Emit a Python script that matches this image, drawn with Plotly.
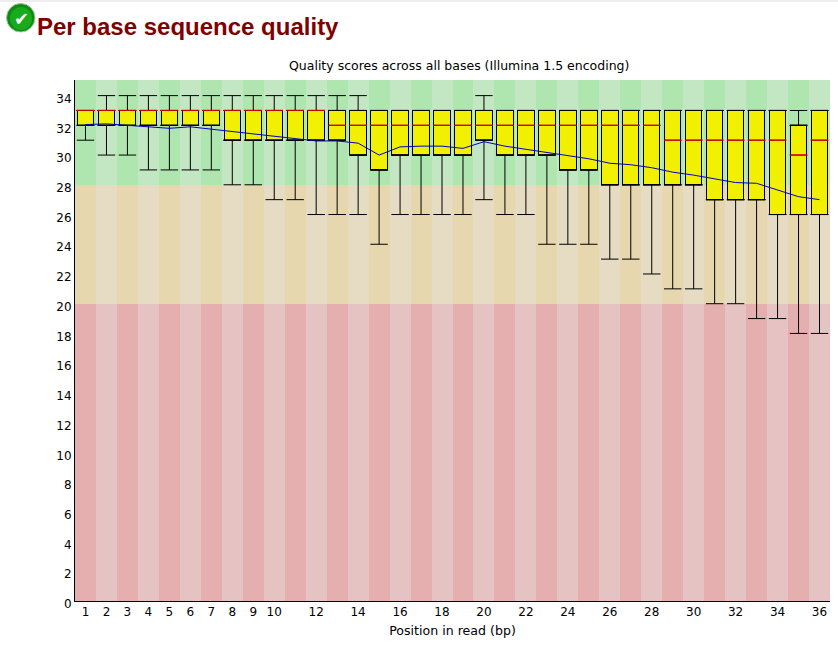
"""
Per base sequence quality (FastQC style) redone with Plotly
"""

import plotly.graph_objects as go

# Data
posicoes = list(range(1, 37))
q1 = [32, 32, 32, 32, 32, 32, 32, 31, 31, 31, 31, 31, 31, 30, 29, 30, 30, 30,
      30, 31, 30, 30, 30, 29, 29, 28, 28, 28, 28, 28, 27, 27, 27, 26, 26, 26]
mediana = [33, 33, 33, 33, 33, 33, 33, 33, 33, 33, 33, 33, 32, 32, 32, 32, 32, 32,
           32, 32, 32, 32, 32, 32, 32, 32, 32, 32, 31, 31, 31, 31, 31, 31, 30, 31]
q3 = [33, 33, 33, 33, 33, 33, 33, 33, 33, 33, 33, 33, 33, 33, 33, 33, 33, 33,
      33, 33, 33, 33, 33, 33, 33, 33, 33, 33, 33, 33, 33, 33, 33, 33, 32, 33]
minimo = [31, 30, 30, 29, 29, 29, 29, 28, 28, 27, 27, 26, 26, 26, 24, 26, 26, 26,
          26, 27, 26, 26, 24, 24, 24, 23, 23, 22, 21, 21, 20, 20, 19, 19, 18, 18]
maximo = [33, 34, 34, 34, 34, 34, 34, 34, 34, 34, 34, 34, 34, 34, 33, 33, 33, 33,
          33, 34, 33, 33, 33, 33, 33, 33, 33, 33, 33, 33, 33, 33, 33, 33, 33, 33]
media = [32.05, 32.1, 32.0, 31.9, 31.8, 31.9, 31.75, 31.55, 31.45, 31.25, 31.1, 30.95,
         30.95, 30.8, 30.0, 30.55, 30.6, 30.6, 30.45, 30.9, 30.6, 30.4, 30.2, 30.0,
         29.75, 29.45, 29.35, 29.15, 28.85, 28.65, 28.4, 28.15, 28.1, 27.65, 27.2, 27.0]

# Background zones: base, height and the two stripe colours
zonas = [
    (0, 20, "rgb(230,175,175)", "rgb(230,195,195)"),
    (20, 8, "rgb(230,215,175)", "rgb(230,220,195)"),
    (28, 7.05, "rgb(175,230,175)", "rgb(195,230,195)"),
]

x_ticks = [1, 2, 3, 4, 5, 6, 7, 8, 9, 10, 12, 14, 16, 18, 20, 22, 24, 26, 28, 30, 32, 34, 36]
y_ticks = list(range(0, 36, 2))

LARGURA, ALTURA = 838, 651
ML, MR, MT, MB = 75, 8, 80, 50
FONTE = "DejaVu Sans"
LARGURA_CAIXA = 0.83


def px_x(px):
    """Pixel da janela para coordenada paper em x"""
    return (px - ML) / (LARGURA - ML - MR)


def px_y(px):
    """Pixel da janela para coordenada paper em y"""
    return 1 - (px - MT) / (ALTURA - MT - MB)


def caixa_plana(nivel, baixo, alto, cor, espessura=1):
    """Caixa de altura zero: só uma linha no nível, com bigodes opcionais"""
    return go.Box(
        x=posicoes,
        q1=nivel,
        median=nivel,
        q3=nivel,
        lowerfence=baixo,
        upperfence=alto,
        width=LARGURA_CAIXA,
        whiskerwidth=1,
        line=dict(color=cor, width=espessura),
        boxpoints=False,
    )


fig = go.Figure()

# Listras de fundo
for base, altura, escura, clara in zonas:
    fig.add_trace(go.Bar(
        x=posicoes,
        y=[altura] * len(posicoes),
        base=[base] * len(posicoes),
        width=1,
        marker=dict(
            color=[escura if p % 2 else clara for p in posicoes],
            line=dict(width=0),
        ),
        hoverinfo="skip",
    ))

# Corpo das caixas: barra preta e amarela por cima, 2 px mais estreita
# (go.Box sempre desenha a mediana 1 px abaixo de q3, por isso as barras)
alturas_caixa = [a - b for a, b in zip(q3, q1)]
fig.add_trace(go.Bar(x=posicoes, y=alturas_caixa, base=q1, width=LARGURA_CAIXA,
                     marker=dict(color="black", line=dict(width=0))))
fig.add_trace(go.Bar(x=posicoes, y=alturas_caixa, base=q1, width=LARGURA_CAIXA - 2 / 21,
                     marker=dict(color="rgb(240,240,0)", line=dict(width=0))))

# Bigodes, bordas de cima e de baixo, e a mediana em vermelho
fig.add_trace(caixa_plana(q1, minimo, q1, "black"))
fig.add_trace(caixa_plana(q3, q3, maximo, "black"))
fig.add_trace(caixa_plana(mediana, mediana, mediana, "rgb(200,0,0)", espessura=0.6))

# Média
fig.add_trace(go.Scatter(
    x=posicoes,
    y=media,
    mode="lines",
    line=dict(color="rgb(0,0,200)", width=1),
))

# Faixa cinza no topo da página
fig.add_shape(type="rect", xref="paper", yref="paper", layer="below",
              x0=px_x(0), x1=px_x(LARGURA), y0=px_y(2), y1=px_y(0),
              fillcolor="#eeeeee", line=dict(width=0))

# Ícone de ok
fig.add_shape(type="circle", xref="paper", yref="paper",
              x0=px_x(6.5), x1=px_x(35), y0=px_y(32), y1=px_y(3.5),
              fillcolor="#0e8a12", line=dict(color="#9fc9a0", width=1))
fig.add_shape(type="circle", xref="paper", yref="paper",
              x0=px_x(10), x1=px_x(32), y0=px_y(30), y1=px_y(7),
              fillcolor="#18ab1c", line=dict(width=0))
fig.add_annotation(text="✔", xref="paper", yref="paper", x=px_x(21), y=px_y(18.5),
                   xanchor="center", yanchor="middle", showarrow=False,
                   font=dict(family=FONTE, size=18, color="white"))

# Títulos
fig.add_annotation(text="<b>Per base sequence quality</b>", xref="paper", yref="paper",
                   x=px_x(37), y=px_y(26.5), xanchor="left", yanchor="middle",
                   showarrow=False, xshift=-2,
                   font=dict(family="Liberation Sans", size=24, color="#800000"))
fig.add_annotation(text="Quality scores across all bases (Illumina 1.5 encoding)",
                   xref="paper", yref="paper", x=px_x(459), y=px_y(65),
                   xanchor="center", yanchor="middle", showarrow=False,
                   font=dict(family=FONTE, size=12.5, color="black"))

fig.update_layout(
    width=LARGURA,
    height=ALTURA,
    margin=dict(l=ML, r=MR, t=MT, b=MB),
    barmode="overlay",
    bargap=0,
    boxmode="overlay",
    showlegend=False,
    plot_bgcolor="white",
    paper_bgcolor="white",
    font=dict(family=FONTE, size=12, color="black"),
)
fig.update_xaxes(
    range=[0.5, 36.5],
    tickmode="array",
    tickvals=x_ticks,
    ticktext=[str(t) for t in x_ticks],
    tickangle=0,
    ticks="",
    showgrid=False,
    zeroline=False,
    showline=True,
    linecolor="black",
    linewidth=1,
    title=dict(text="Position in read (bp)", standoff=7, font=dict(size=12.6)),
)
fig.update_yaxes(
    range=[0, 35.05],
    tickmode="array",
    tickvals=y_ticks,
    ticktext=[str(t) for t in y_ticks],
    ticks="",
    ticklabelshift=3,
    showgrid=False,
    zeroline=False,
    showline=True,
    linecolor="black",
    linewidth=1,
)

fig.write_html("out.html", config={"displayModeBar": False},
               post_script="document.body.style.margin='0';")
